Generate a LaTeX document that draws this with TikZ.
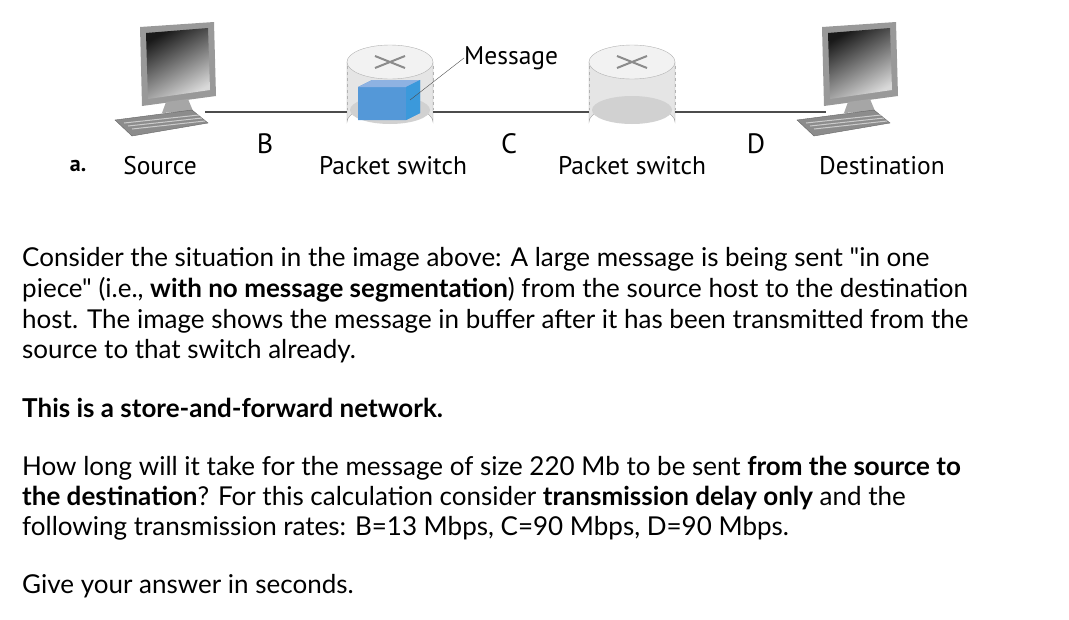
\documentclass[tikz,border=0pt]{standalone}
\usepackage{fontspec}
\setmainfont{Lato}[Ligatures=TeXOff]
\newfontfamily\lab{PT Sans}
\newcommand\qq{"}
\begin{document}
\begin{tikzpicture}[x=1pt,y=-1pt,
  body/.style={anchor=base west,inner sep=0pt,font=\fontsize{26}{30}\selectfont},
  lbl/.style={inner sep=0pt,font=\lab\fontsize{25.5}{28}\selectfont},
  link/.style={draw=black!70,line width=1.2pt}]
\useasboundingbox (0,0) rectangle (1069,619);
% computers
\newcommand\computer[1]{%
 \begin{scope}[shift={(#1,0)}]
  \fill[black!40] (-8,27) -- (66,22) -- (68,96) -- (-6,106) -- cycle;
  \shade[left color=black!90,right color=black!15,shading angle=30] (-2,33) -- (60,28) -- (62,90) -- (0,99) -- cycle;
  \fill[black!35] (18,102) -- (40,99) -- (45,111) -- (14,113) -- cycle;
  \fill[black!45,draw=black!60] (-33,120) -- (44,110) -- (60,123) -- (-16,136) -- cycle;
  \foreach \k in {1,2,3} \draw[black!20,line width=1pt] (-28+\k*4,120+\k*3) -- (48+\k*3,112+\k*3);
 \end{scope}}
\computer{148}
\computer{830}
\coordinate (src) at (205,112);
\coordinate (dst) at (826,112);
% switches
\newcommand\switch[2]{%
 \begin{scope}[shift={(#1,0)}]
  \fill[black!10,draw=black!35] (-43,62) -- (-43,122) arc[start angle=180,end angle=360,x radius=43,y radius=17] -- (43,62) -- cycle;
  \fill[black!5,draw=black!30] (0,62) ellipse[x radius=43,y radius=17];
  \draw[black!45,line width=2pt] (-15,56) -- (15,68) (-15,68) -- (15,56);
  \fill[black!18] (0,110) ellipse[x radius=40,y radius=14];
  \draw[black!30,dashed] (-43,66) -- (-43,110) (43,66) -- (43,110);
  \coordinate (#2) at (0,112);
 \end{scope}}
\switch{390}{sw1}
\switch{632}{sw2}
\draw[link] (src) -- ([xshift=-43]sw1);
\draw[link] ([xshift=43]sw1) -- ([xshift=-43]sw2);
\draw[link] ([xshift=43]sw2) -- (dst);
% message cube
\fill[cyan!60!blue!70] (358,87) -- (372,80) -- (420,80) -- (420,113) -- (406,120) -- (358,120) -- cycle;
\fill[cyan!55!blue!45] (358,87) -- (372,80) -- (420,80) -- (406,87) -- cycle;
\fill[cyan!70!blue!80] (406,87) -- (420,80) -- (420,113) -- (406,120) -- cycle;
\coordinate (msgpt) at (410,100);
\node[lbl,anchor=west] (msg) at (464,58) {Message};
\draw[black!70] (msgpt) -- (msg.west);
% labels
\node[lbl,font=\lab\bfseries\fontsize{22}{24}\selectfont] (a) at (78,166) {a.};
\node[lbl] (ls) at (160,166) {Source};
\node[lbl,font=\lab\fontsize{28}{30}\selectfont] (lb) at (265,144) {B};
\node[lbl] (lp1) at (393,166) {Packet switch};
\node[lbl,font=\lab\fontsize{28}{30}\selectfont] (lc) at (509,144) {C};
\node[lbl] (lp2) at (632,166) {Packet switch};
\node[lbl,font=\lab\fontsize{28}{30}\selectfont] (ld) at (756,144) {D};
\node[lbl] (lde) at (882,166) {Destination};
% text
\node[body] (t1) at (22,266) {Consider the situation in the image above: A large message is being sent \qq in one};
\node[body] (t2) at (22,297) {piece\qq\ (i.e., \textbf{with no message segmentation}) from the source host to the destination};
\node[body] (t3) at (22,328) {host. The image shows the message in buffer after it has been transmitted from the};
\node[body] (t4) at (22,358) {source to that switch already.};
\node[body] (t5) at (22,417) {\textbf{This is a store-and-forward network.}};
\node[body] (t6) at (22,475) {How long will it take for the message of size 220 Mb to be sent \textbf{from the source to}};
\node[body] (t7) at (22,505) {\textbf{the destination}? For this calculation consider \textbf{transmission delay only} and the};
\node[body] (t8) at (22,535) {following transmission rates: B=13 Mbps, C=90 Mbps, D=90 Mbps.};
\node[body] (t9) at (22,593) {Give your answer in seconds.};
\end{tikzpicture}
\end{document}
